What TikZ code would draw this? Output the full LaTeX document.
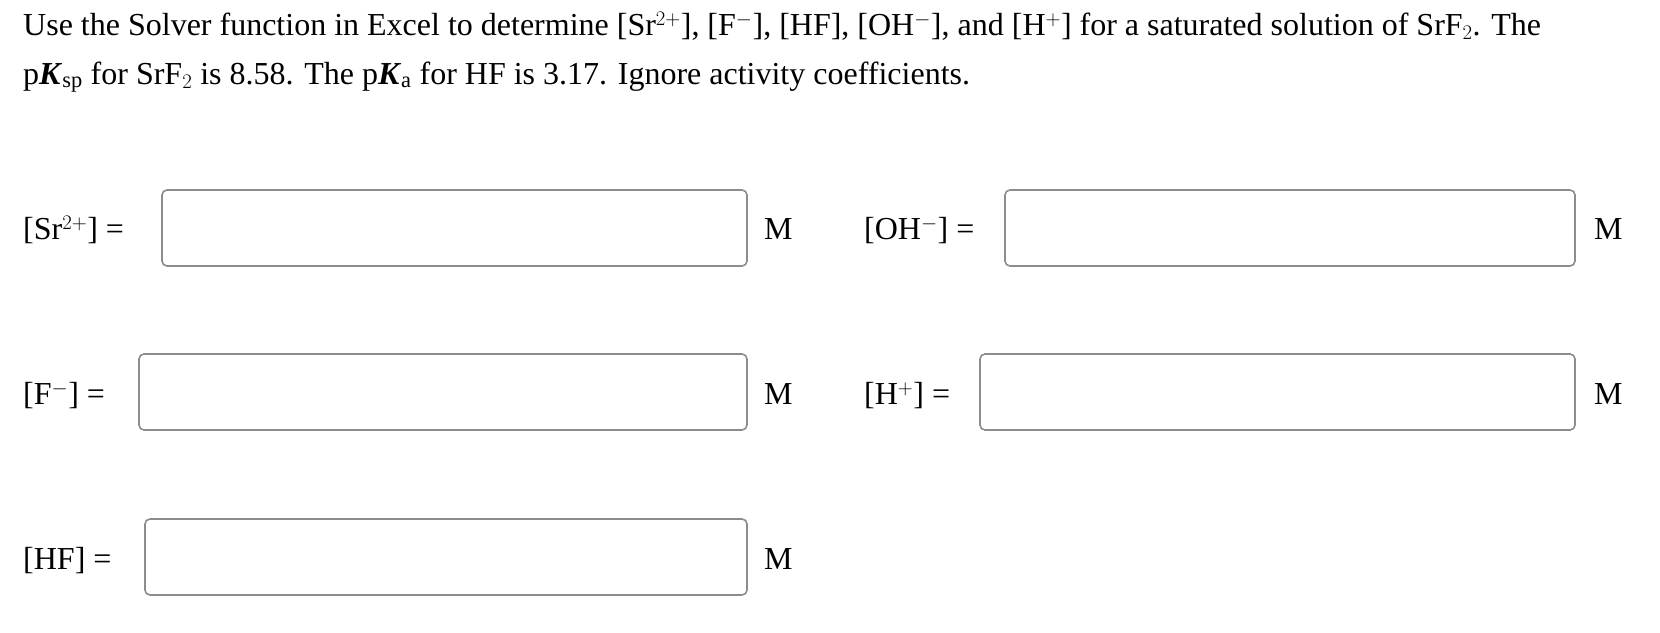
\documentclass[tikz,border=0pt]{standalone}
\usepackage{fontspec}
\setmainfont{Liberation Serif}
\begin{document}
\begin{tikzpicture}[x=1pt,y=-1pt,
  inbox/.style={draw=gray!90,line width=1.6pt,rounded corners=5pt},
  lbl/.style={anchor=base west,inner sep=0pt,font=\fontsize{32}{38}\selectfont},
  unit/.style={anchor=base west,inner sep=0pt,font=\fontsize{32}{38}\selectfont\bfseries}]
\useasboundingbox (0,0) rectangle (1660,632);
\node[lbl] (l1) at (23,35) {Use the Solver function in Excel to determine [Sr$^{2+}$], [F$^{-}$], [HF], [OH$^{-}$], and [H$^{+}$] for a saturated solution of SrF$_2$. The};
\node[lbl] (l2) at (23,84) {p\textbf{\textit{K}}$_{\mathrm{sp}}$ for SrF$_2$ is 8.58. The p\textbf{\textit{K}}$_{\mathrm{a}}$ for HF is 3.17. Ignore activity coefficients.};
% row 1
\node[lbl] (a) at (23,239) {[Sr$^{2+}$] =};
\draw[inbox] (162,190) rectangle (747,266);
\node[lbl] (am) at (764,239) {M};
\node[lbl] (b) at (864,239) {[OH$^{-}$] =};
\draw[inbox] (1005,190) rectangle (1575,266);
\node[lbl] (bm) at (1594,239) {M};
% row 2
\node[lbl] (c) at (23,404) {[F$^{-}$] =};
\draw[inbox] (139,354) rectangle (747,430);
\node[lbl] (cm) at (764,404) {M};
\node[lbl] (d) at (864,404) {[H$^{+}$] =};
\draw[inbox] (980,354) rectangle (1575,430);
\node[lbl] (dm) at (1594,404) {M};
% row 3
\node[lbl] (e) at (23,569) {[HF] =};
\draw[inbox] (145,519) rectangle (747,595);
\node[lbl] (em) at (764,569) {M};
\end{tikzpicture}
\end{document}
